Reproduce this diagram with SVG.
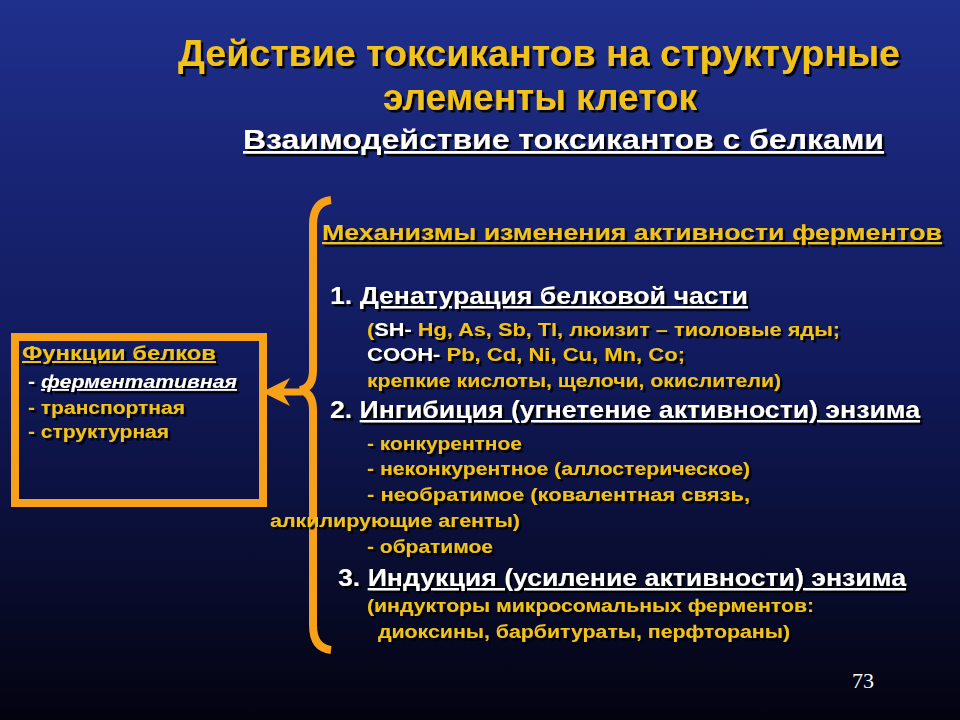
<svg xmlns="http://www.w3.org/2000/svg" width="960" height="720" viewBox="0 0 960 720">
<defs>
<linearGradient id="bg" x1="0" y1="0" x2="0" y2="1">
<stop offset="0" stop-color="#1f2f8c"/>
<stop offset="0.5" stop-color="#111a5c"/>
<stop offset="1" stop-color="#03030f"/>
</linearGradient>
<filter id="sh" x="-5%" y="-20%" width="110%" height="140%"><feDropShadow dx="2.5" dy="2.5" stdDeviation="0.3" flood-color="#000" flood-opacity="1"/></filter>
</defs>
<style>
text{font-family:"Liberation Sans",Arial,sans-serif;font-weight:bold;filter:url(#sh)}
.t{fill:#f2c21a;font-size:36px}
.w{fill:#ffffff}
.y{fill:#f2c21a}
.m{font-size:20px}
.h{font-size:24px}
.s{font-size:18px}
</style>
<rect width="960" height="720" fill="url(#bg)"/>
<g id="title">
<text class="t" x="178" y="66" textLength="722" lengthAdjust="spacingAndGlyphs">Действие токсикантов на  структурные</text>
<text class="t" x="383" y="110" textLength="314" lengthAdjust="spacingAndGlyphs">элементы клеток</text>
<text class="w" x="243" y="149" font-size="27" text-decoration="underline" textLength="641" lengthAdjust="spacingAndGlyphs">Взаимодействие токсикантов с белками</text>
</g>
<g id="functions">
<rect x="15" y="337" width="248" height="166" fill="none" stroke="#f7a11a" stroke-width="8"/>
<text class="y m" x="22" y="360" text-decoration="underline" textLength="194" lengthAdjust="spacingAndGlyphs">Функции белков</text>
<text class="w s" x="28" y="388" textLength="209" lengthAdjust="spacingAndGlyphs">- <tspan font-style="italic" text-decoration="underline">ферментативная</tspan></text>
<text class="y s" x="28" y="414" textLength="157" lengthAdjust="spacingAndGlyphs">- транспортная</text>
<text class="y s" x="28" y="438" textLength="141" lengthAdjust="spacingAndGlyphs">- структурная</text>
</g>
<g id="connectors">
<path d="M331,200 Q313,202 313,225 L313,370 Q313,388 300,390 Q313,393 313,410 L313,625 Q313,648 331,650" fill="none" stroke="#f7a11a" stroke-width="8"/>
<line x1="302" y1="392" x2="280" y2="392" stroke="#f7a11a" stroke-width="7"/>
<polygon points="262,392 290,378 282,392 290,406" fill="#f7a11a"/>
</g>
<g id="mechanisms">
<text class="y" x="322" y="240" font-size="22" text-decoration="underline" textLength="620" lengthAdjust="spacingAndGlyphs">Механизмы изменения активности ферментов</text>
<text class="w h" x="330" y="304" textLength="418" lengthAdjust="spacingAndGlyphs">1. <tspan text-decoration="underline">Денатурация белковой части</tspan></text>
<text class="y s" x="367" y="336" textLength="473" lengthAdjust="spacingAndGlyphs">(<tspan fill="#fff">SH-</tspan>   Hg, As, Sb, Tl, люизит – тиоловые яды;</text>
<text class="y s" x="367" y="361" textLength="318" lengthAdjust="spacingAndGlyphs"><tspan fill="#fff">COOH-</tspan>   Pb, Cd, Ni, Cu, Mn, Co;</text>
<text class="y s" x="367" y="387" textLength="414" lengthAdjust="spacingAndGlyphs">крепкие кислоты, щелочи, окислители)</text>
<text class="w h" x="330" y="418" textLength="590" lengthAdjust="spacingAndGlyphs">2. <tspan text-decoration="underline">Ингибиция (угнетение активности) энзима</tspan></text>
<text class="y s" x="367" y="450" textLength="155" lengthAdjust="spacingAndGlyphs">- конкурентное</text>
<text class="y s" x="367" y="475" textLength="383" lengthAdjust="spacingAndGlyphs">- неконкурентное (аллостерическое)</text>
<text class="y s" x="367" y="501" textLength="383" lengthAdjust="spacingAndGlyphs">-  необратимое  (ковалентная  связь,</text>
<text class="y s" x="270" y="527" textLength="250" lengthAdjust="spacingAndGlyphs">алкилирующие агенты)</text>
<text class="y s" x="367" y="553" textLength="126" lengthAdjust="spacingAndGlyphs">- обратимое</text>
<text class="w h" x="338" y="586" textLength="568" lengthAdjust="spacingAndGlyphs">3. <tspan text-decoration="underline">Индукция (усиление активности) энзима</tspan></text>
<text class="y s" x="367" y="612" textLength="447" lengthAdjust="spacingAndGlyphs">(индукторы микросомальных ферментов:</text>
<text class="y s" x="378" y="638" textLength="412" lengthAdjust="spacingAndGlyphs">диоксины, барбитураты, перфтораны)</text>
</g>
<text x="852" y="688" fill="#ffffff" style="font-family:'Liberation Serif',serif;font-weight:normal;font-size:22px;filter:none">73</text>
</svg>
